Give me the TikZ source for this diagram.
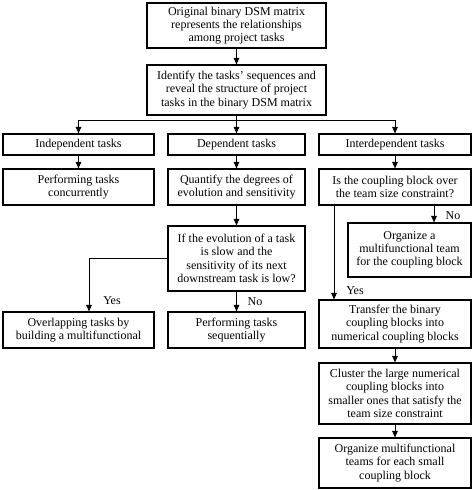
\documentclass[tikz,border=0pt]{standalone}
\usepackage{fontspec}
\setmainfont{Liberation Serif}
\usetikzlibrary{arrows.meta}
\begin{document}
\begin{tikzpicture}[x=1pt,y=-1pt,
  box/.style={draw, line width=1.1pt, rectangle, align=center, inner sep=1pt,
    font=\fontsize{12}{13.3}\selectfont},
  conn/.style={line width=1pt, -{Triangle[length=6.5pt,width=5.5pt]}},
  plain/.style={line width=1pt},
  lbl/.style={font=\fontsize{12}{13.3}\selectfont, inner sep=0pt}]
\useasboundingbox (0,0) rectangle (474,490);
\node[box, minimum width=179pt, minimum height=45pt] (b1) at (236.5,25.5) {Original binary DSM matrix\\represents the relationships\\among project tasks};
\node[box, minimum width=179pt, minimum height=50pt] (b2) at (236.5,90) {Identify the tasks' sequences and\\reveal the structure of project\\tasks in the binary DSM matrix};
\node[box, minimum width=151pt, minimum height=21pt] (ind) at (78.5,144.5) {Independent tasks};
\node[box, minimum width=137pt, minimum height=21pt] (dep) at (236.5,144.5) {Dependent tasks};
\node[box, minimum width=152pt, minimum height=21pt] (inter) at (395,144.5) {Interdependent tasks};
\node[box, minimum width=151pt, minimum height=36pt] (conc) at (78.5,187) {Performing tasks\\concurrently};
\node[box, minimum width=137pt, minimum height=36pt] (quant) at (236.5,187) {Quantify the degrees of\\evolution and sensitivity};
\node[box, minimum width=152pt, minimum height=36pt] (coup) at (395,187) {Is the coupling block over\\the team size constraint?};
\node[box, minimum width=137pt, minimum height=65pt] (dec) at (236.5,258.5) {If the evolution of a task\\is slow and the\\sensitivity of its next\\downstream task is low?};
\node[box, minimum width=123pt, minimum height=54pt] (org1) at (409.5,250) {Organize a\\multifunctional team\\for the coupling block};
\node[box, minimum width=151pt, minimum height=36pt] (over) at (78.5,330) {Overlapping tasks by\\building a multifunctional};
\node[box, minimum width=137pt, minimum height=36pt] (seq) at (236.5,330) {Performing tasks\\sequentially};
\node[box, minimum width=152pt, minimum height=48pt] (trans) at (395,324) {Transfer the binary\\coupling blocks into\\numerical coupling blocks};
\node[box, minimum width=152pt, minimum height=61pt] (clus) at (395,393.5) {Cluster the large numerical\\coupling blocks into\\smaller ones that satisfy the\\team size constraint};
\node[box, minimum width=152pt, minimum height=50pt] (org2) at (395,463) {Organize multifunctional\\teams for each small\\coupling block};
% connectors
\coordinate (split) at (236.5,120);
\draw[conn] (b1) -- (b2);
\draw[plain] (b2.south) -- (split);
\draw[plain] (ind.north |- split) -- (inter.north |- split);
\draw[conn] (ind.north |- split) -- (ind.north);
\draw[conn] (split) -- (dep.north);
\draw[conn] (inter.north |- split) -- (inter.north);
\draw[conn] (ind) -- (conc);
\draw[conn] (dep) -- (quant);
\draw[conn] (inter) -- (coup);
\draw[conn] (quant) -- (dec);
\coordinate (yesturn) at (89,258.5);
\draw[conn] (dec.west) -- (yesturn) -- (yesturn |- over.north);
\draw[conn] (dec) -- (seq);
\coordinate (nodown) at (434,205);
\draw[conn] (nodown) -- (nodown |- org1.north);
\coordinate (yesdown) at (334,205);
\draw[conn] (yesdown) -- (yesdown |- trans.north);
\draw[conn] (trans) -- (clus);
\draw[conn] (clus) -- (org2);
% labels
\node[lbl] (l1) at (112,301) {Yes};
\node[lbl] (l2) at (255,302) {No};
\node[lbl] (l3) at (453,216) {No};
\node[lbl] (l4) at (355,291) {Yes};
\end{tikzpicture}
\end{document}
